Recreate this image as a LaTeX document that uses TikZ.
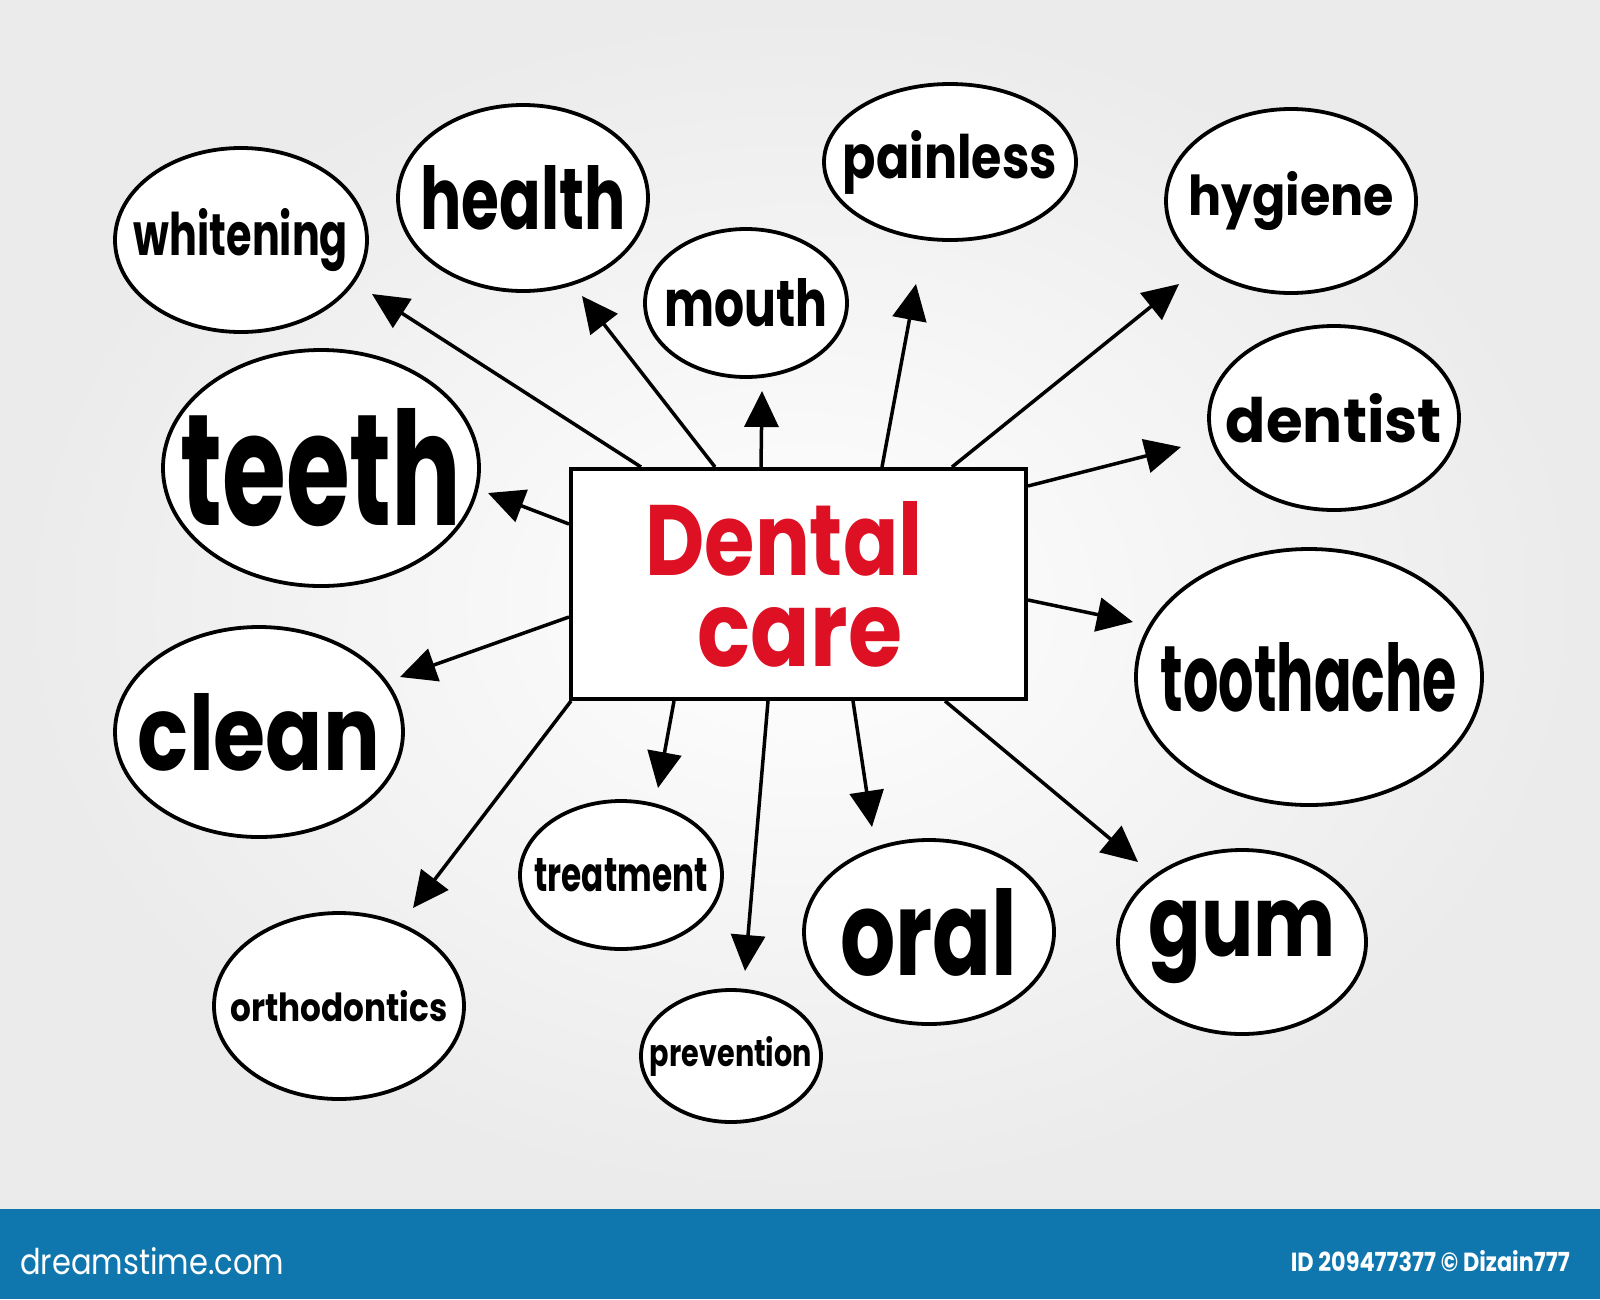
\documentclass[tikz,border=0pt]{standalone}
\usepackage{fontspec}
\setmainfont{Poppins}
\usepackage{graphicx}
\usetikzlibrary{shapes.geometric,arrows.meta}
\definecolor{dentalred}{RGB}{222,16,36}
\definecolor{bannerblue}{RGB}{16,118,174}

\begin{document}
\begin{tikzpicture}[x=1pt,y=-1pt,
    TopicNode/.style={ellipse,draw=black,line width=3.8pt,fill=white,inner sep=0pt},
    CenterNode/.style={rectangle,draw=black,line width=4pt,fill=white,inner sep=0pt,
        minimum width=455pt,minimum height=230pt},
    TitleText/.style={text=dentalred,font=\bfseries,align=center,inner sep=0pt},
    Arrow/.style={line width=3.5pt,-{Triangle[length=36pt,width=34pt]}}]

    % background and bottom banner
    \useasboundingbox (0,0) rectangle (1600,1299);
    \shade[inner color=white,outer color=black!8] (0,0) rectangle (1600,1209);
    \fill[bannerblue] (0,1209) rectangle (1600,1299);
    \node[anchor=west,text=white,inner sep=0pt] (logo) at (20,1261)
        {\resizebox{264pt}{27pt}{dreamstime.com}};
    \node[anchor=east,text=white,font=\bfseries,inner sep=0pt] (credit) at (1570,1261)
        {\resizebox{279pt}{21pt}{ID 209477377 © Dizain777}};

    % topic ellipses: name/x/y/rx/ry/text width/text height
    \foreach \name/\x/\y/\rx/\ry/\w/\h in {
        whitening/241/240/126/92/214/47,
        health/523/198/125/93/205/64,
        mouth/746/303/101/74/163/48,
        painless/950/162/126/78/214/48,
        hygiene/1291/201/125/92/206/44,
        dentist/1334/418/125/92/216/49,
        toothache/1309/677/173/128/296/69,
        gum/1242/942/124/92/187/56,
        oral/929/932/125/92/177/87,
        prevention/731/1056/90/66/162/30,
        treatment/621/875/101/74/173/33,
        orthodontics/339/1006/125/93/217/31,
        clean/259/732/144/105/242/77,
        teeth/321/468/158/118/281/117}
    \node[TopicNode,minimum width=2*\rx pt,minimum height=2*\ry pt,
        label={[font=\bfseries]center:\resizebox{\w pt}{\h pt}{\name}}] (\name) at (\x,\y) {};

    % central box
    \node[CenterNode] (box) at (798.5,584) {};
    \node[TitleText] (title) at (784,584)
        {\resizebox{277pt}{74pt}{Dental}\\[30pt]\hspace*{32pt}\resizebox{204pt}{59pt}{care}};

    % arrows from the box: name/shift x/shift y/corner/tip x/tip y
    \foreach \name/\sx/\sy/\corner/\tx/\ty in {
        whitening/72/0/north west/372/294,
        health/146/0/north west/582/296,
        mouth/192/0/north west/762/391,
        painless/313/0/north west/916/284,
        hygiene/383/0/north west/1179/284,
        dentist/0/19/north east/1181/447,
        toothache/0/133/north east/1133/622,
        gum/376/0/south west/1138/862,
        oral/284/0/south west/872/827,
        prevention/199/0/south west/745/971,
        treatment/105/0/south west/658/788,
        orthodontics/2/0/south west/413/908,
        clean/0/150/north west/400/677,
        teeth/0/57/north west/488/493}{
        \coordinate (tip_\name) at (\tx,\ty);
        \draw[Arrow] ([shift={(\sx,\sy)}]box.\corner) -- (tip_\name);
    }
\end{tikzpicture}
\end{document}
